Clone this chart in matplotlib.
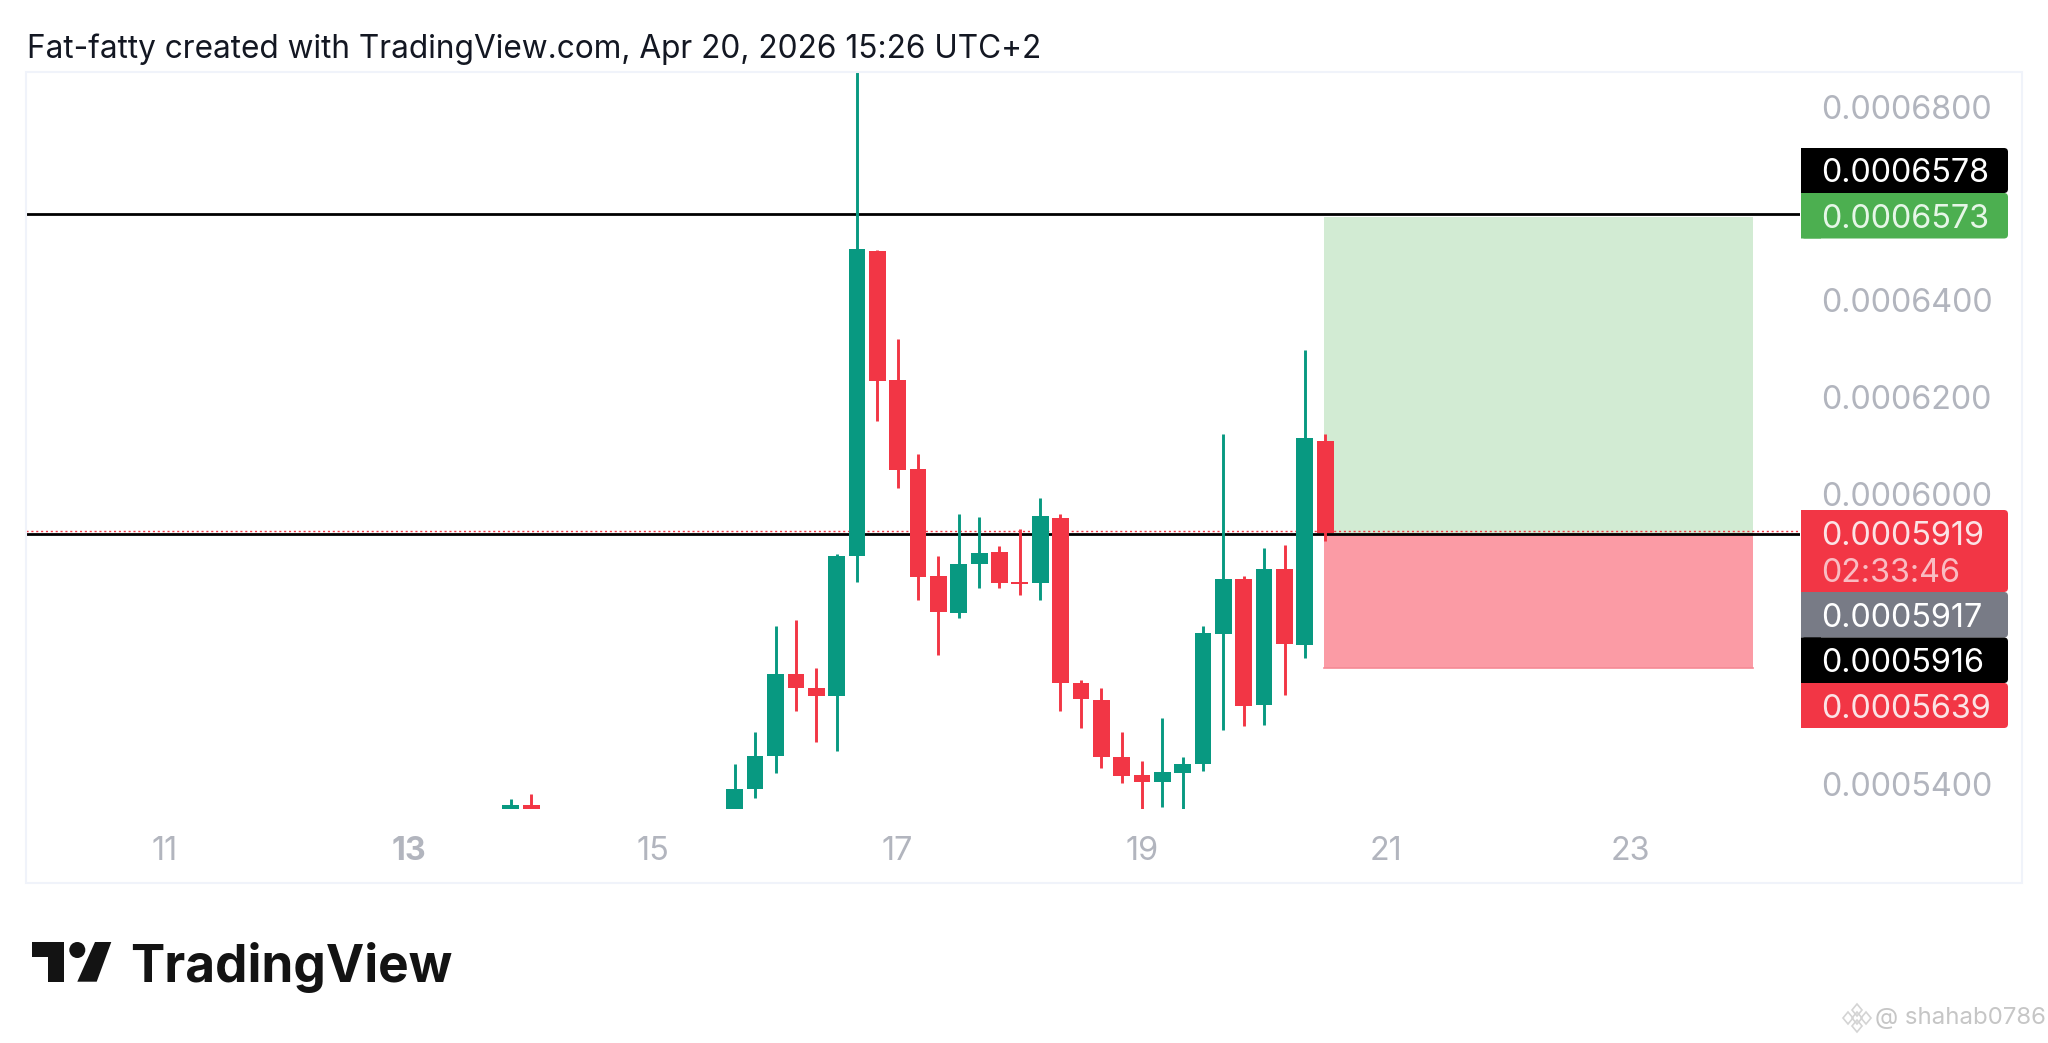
import numpy as np
import matplotlib
matplotlib.use('Agg')
import matplotlib.pyplot as plt
from matplotlib.patches import Rectangle, FancyBboxPatch, Circle, Polygon

plt.rcParams['font.family'] = ['Inter', 'DejaVu Sans']

GREEN = '#089981'
RED = '#F23645'
AXIS_GREY = '#B2B5BE'

# 4h candles, x is day of April, prices in units of 1e-7
days = [13.833, 14.0, 15.667, 15.833, 16.0, 16.167, 16.333, 16.5, 16.667, 16.833,
        17.0, 17.167, 17.333, 17.5, 17.667, 17.833, 18.0, 18.167, 18.333, 18.5,
        18.667, 18.833, 19.0, 19.167, 19.333, 19.5, 19.667, 19.833, 20.0, 20.167,
        20.333, 20.5]
opens = [5340, 5357, 5340, 5390.1, 5458.0, 5627.7, 5598.9, 5582.4, 5872.5, 6502.1,
         6234.6, 6050.5, 5829.3, 5754.2, 5854.0, 5879.7, 5817.7, 5814.9, 5950.2, 5609.1,
         5574.2, 5456.0, 5418.3, 5403.3, 5423.3, 5441.8, 5710.9, 5823.4, 5564.2, 5844.1,
         5686.7, 6109.7]
closes = [5357, 5340, 5390.1, 5458.0, 5627.7, 5598.9, 5581.4, 5872.5, 6506.3, 6233.6,
          6048.5, 5828.3, 5756.3, 5854.0, 5877.7, 5815.6, 5813.5, 5953.7, 5608.4, 5574.9,
          5456.0, 5417.6, 5404.7, 5424.7, 5441.8, 5711.6, 5823.4, 5562.1, 5844.1, 5689.0,
          6114.7, 5919.0]
highs = [5369.5, 5378.8, 5440.5, 5507.3, 5726.5, 5738.8, 5640.1, 5876.6, 6890, 6504.2,
         6320.1, 6082.4, 5871.5, 5959.0, 5951.8, 5891.8, 5927.4, 5990.8, 5959.4, 5614.8,
         5597.7, 5506.6, 5446.8, 5537.2, 5455.3, 5725.9, 6124.6, 5830.5, 5888.2, 5893.9,
         6296.9, 6124.6]
lows = [5335, 5335, 5335, 5371.6, 5423.0, 5551.6, 5487.8, 5469.3, 5817.0, 6150.3,
        6012.5, 5781.1, 5667.8, 5742.9, 5804.7, 5805.6, 5790.7, 5781.4, 5551.4, 5515.8,
        5433.9, 5401.2, 5349.2, 5352.8, 5349.2, 5426.1, 5510.8, 5519.4, 5521.5, 5584.2,
        5659.7, 5902.4]

y_ticks = [0.00068, 0.00064, 0.00062, 0.00060, 0.00054]
x_ticks = [11, 13, 15, 17, 19, 21, 23]

line_top = 0.0006578
line_entry = 0.0005917
last_price = 0.0005919
take_profit = 0.0006573
stop_loss = 0.0005639
box_start = 20.49
box_end = 24.0

# right side price tags: text, colour, text colour, top and bottom in pixels
tags = [
    ('0.0006578', '#000000', '#FFFFFF', 148, 193),
    ('0.0006573', '#4CAF50', '#E6F6E7', 193, 238.5),
    ('0.0005919', RED, '#FBE3E5', 510, 592),
    ('0.0005917', '#787B86', '#FFFFFF', 592, 637.5),
    ('0.0005916', '#000000', '#FFFFFF', 637.5, 683),
    ('0.0005639', RED, '#FBE3E5', 683, 728),
]

W, H = 2048, 1043
fig = plt.figure(figsize=(W / 100, H / 100), dpi=100)

# chart pane
ax = fig.add_axes([26 / W, 1 - 809 / H, (1800 - 26) / W, (809 - 72) / H])
ax.set_xlim(9.864, 24.387)
ax.set_ylim(0.00053484, 0.00068724)
for s in ax.spines.values():
    s.set_visible(False)

ax.add_patch(Rectangle((box_start, last_price), box_end - box_start, take_profit - last_price,
                       color='#D2EBD3', lw=0, zorder=1))
ax.add_patch(Rectangle((box_start, stop_loss), box_end - box_start, last_price - stop_loss,
                       color='#FB9BA5', lw=0, zorder=1))
ax.plot([box_start, box_end], [stop_loss, stop_loss], color='#F58A95', lw=1.2, zorder=1)

ax.axhline(line_top, color='black', lw=2.0, zorder=2)
ax.axhline(line_entry, color='black', lw=2.0, zorder=2)
ax.axhline(last_price + 0.00000035, color=RED, lw=1.0, ls=(0, (1.5, 2)), zorder=2.5)

o = np.array(opens) * 1e-7
c = np.array(closes) * 1e-7
h = np.array(highs) * 1e-7
l = np.array(lows) * 1e-7
x = np.array(days)
colors = [GREEN if cl >= op else RED for op, cl in zip(o, c)]

ax.vlines(x, l, h, colors=colors, lw=2.1, zorder=3)
ax.bar(x, np.abs(c - o), bottom=np.minimum(o, c), width=0.137, color=colors, lw=0, zorder=4)

ax.yaxis.tick_right()
ax.set_yticks(y_ticks)
ax.set_yticklabels(['%.7f' % v for v in y_ticks])
ax.tick_params(axis='y', length=0, pad=15.2, labelsize=23.3, labelcolor=AXIS_GREY)
ax.set_xticks(x_ticks)
ax.set_xticklabels([str(v) for v in x_ticks])
ax.tick_params(axis='x', length=0, pad=19.5, labelsize=23.3, labelcolor=AXIS_GREY)
ax.get_xticklabels()[1].set_fontweight('bold')

# everything outside the pane is laid out in pixels
ov = fig.add_axes([0, 0, 1, 1], zorder=5)
ov.set_xlim(0, W)
ov.set_ylim(H, 0)
ov.axis('off')

ov.add_patch(Rectangle((26, 72), 1996, 811, fill=False, ec='#F0F3FA', lw=1.5))

for label, bg, fg, top, bottom in tags:
    ov.add_patch(FancyBboxPatch((1801, top), 207, bottom - top, boxstyle='round,pad=0,rounding_size=4',
                                fc=bg, ec='none', snap=False))
    ov.add_patch(Rectangle((1801, top), 20, bottom - top, fc=bg, ec='none', snap=False))
    yc = (top + bottom) / 2 + 3.5
    if label == '0.0005919':
        ov.text(1821, 536.5, label, color=fg, fontsize=23.3, va='center', ha='left')
        ov.text(1821, 574, '02:33:46', color='#F9BCC2', fontsize=23.3, va='center', ha='left')
    else:
        ov.text(1821, yc, label, color=fg, fontsize=23.3, va='center', ha='left')

ov.text(27, 49.5, 'Fat-fatty created with TradingView.com, Apr 20, 2026 15:26 UTC+2',
        color='#131722', fontsize=22.75, va='center', ha='left')

# TradingView logo
logo = '#131313'
ov.add_patch(Polygon([(32, 942), (64, 942), (64, 981.7), (48, 981.7), (48, 957.3), (32, 957.3)],
                     fc=logo, ec='none'))
ov.add_patch(Circle((77.3, 950), 8, fc=logo, ec='none'))
ov.add_patch(Polygon([(95, 942), (111.3, 942), (96.7, 981.7), (77.3, 981.7)], fc=logo, ec='none'))
ov.text(130, 981.7, 'TradingView', color=logo, fontsize=37, fontweight='bold',
        va='baseline', ha='left')

# watermark
for dx, dy in [(0, -8), (-9, 0), (9, 0), (0, 8), (0, 0)]:
    ov.add_patch(Polygon([(1857 + dx, 1012 + dy), (1862 + dx, 1018 + dy), (1857 + dx, 1024 + dy),
                          (1852 + dx, 1018 + dy)], fc='none', ec='#D4D4D4', lw=1.2))
ov.text(1875, 1018, '@ shahab0786', color='#C6C6C6', fontsize=17.3, va='center', ha='left')

fig.savefig('out.png', dpi=100)
